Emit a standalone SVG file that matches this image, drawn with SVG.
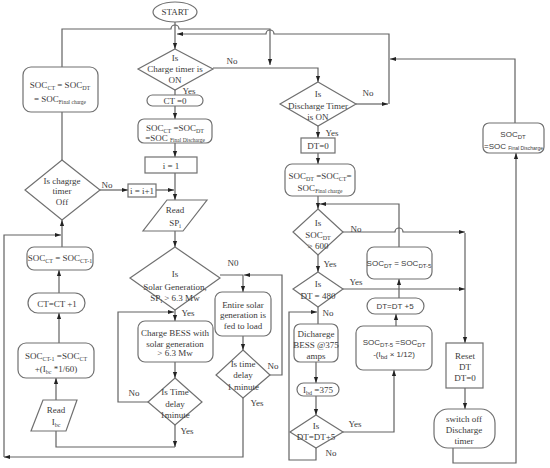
<svg xmlns="http://www.w3.org/2000/svg" width="550" height="468" viewBox="0 0 550 468">
<style>
.n{fill:#fff;stroke:#707070;stroke-width:1.2}
.c{fill:none;stroke:#626262;stroke-width:1.2}
text{font-family:"Liberation Serif","Times New Roman",serif;fill:#3a3a3a;text-anchor:middle;font-size:9px}
.s{font-family:"Liberation Sans",Arial,sans-serif;font-size:8px}
.b{font-size:6px}
.f{font-size:5.5px}
.lb{font-size:9px}
</style>
<defs>
<marker id="a" viewBox="0 0 10 10" refX="10" refY="5" markerWidth="6" markerHeight="6" orient="auto" markerUnits="userSpaceOnUse"><path d="M0,1.5L10,5L0,8.5z" fill="#222"/></marker>
</defs>
<rect width="550" height="468" fill="#fff"/>
<g id="connectors" class="c">
<path d="M175,22V49" marker-end="url(#a)"/>
<path d="M62,67V29H171a4,4 0 0 1 8,0H270V65" marker-end="url(#a)"/>
<path d="M356,104H388" marker-end="url(#a)"/>
<path d="M389,104V34H274a4,4 0 0 0 -8,0H177" marker-end="url(#a)"/>
<path d="M515,123V59H390" marker-end="url(#a)"/>
<path d="M213,68H318V82" marker-end="url(#a)"/>
<path d="M175,90V95"/>
<path d="M175,106V119" marker-end="url(#a)"/>
<path d="M175,143V157" marker-end="url(#a)"/>
<path d="M175,173V200" marker-end="url(#a)"/>
<path d="M100,190H128" marker-end="url(#a)"/>
<path d="M156,190H174" marker-end="url(#a)"/>
<path d="M175,231V247" marker-end="url(#a)"/>
<path d="M175,310V321" marker-end="url(#a)"/>
<path d="M148,402H118V312H174" marker-end="url(#a)"/>
<path d="M175,362V378" marker-end="url(#a)"/>
<path d="M175,425V447" marker-end="url(#a)"/>
<path d="M175,447H56V431"/>
<path d="M56,400V378" marker-end="url(#a)"/>
<path d="M59,343V313" marker-end="url(#a)"/>
<path d="M59,293V270" marker-end="url(#a)"/>
<path d="M62,112V160"/>
<path d="M62,247V220" marker-end="url(#a)"/>
<path d="M243,398V457H4" marker-end="url(#a)"/>
<path d="M4,457V235H61" marker-end="url(#a)"/>
<path d="M220,275H243V292" marker-end="url(#a)"/>
<path d="M270,375H282V275H244" marker-end="url(#a)"/>
<path d="M243,336V350" marker-end="url(#a)"/>
<path d="M318,126V138" marker-end="url(#a)"/>
<path d="M318,153V164" marker-end="url(#a)"/>
<path d="M318,196V209" marker-end="url(#a)"/>
<path d="M399,247V204H320" marker-end="url(#a)"/>
<path d="M343,232H395a4,4 0 0 1 8,0H465" marker-end="url(#a)"/>
<path d="M465,233V343" marker-end="url(#a)"/>
<path d="M318,255V272" marker-end="url(#a)"/>
<path d="M343,289H465" marker-end="url(#a)"/>
<path d="M318,307V324"/>
<path d="M316,448V460H289V312H317" marker-end="url(#a)"/>
<path d="M316,362V383" marker-end="url(#a)"/>
<path d="M316,396V415" marker-end="url(#a)"/>
<path d="M343,432H394V370" marker-end="url(#a)"/>
<path d="M396,326V314" marker-end="url(#a)"/>
<path d="M399,298V279" marker-end="url(#a)"/>
<path d="M465,388V409" marker-end="url(#a)"/>
<path d="M453,448V463H516V153" marker-end="url(#a)"/>
</g>
<g id="start"><ellipse class="n" cx="175" cy="12" rx="22" ry="10"/><text x="175" y="15" font-size="8.5">START</text></g>
<g id="charge-on"><polygon class="n" points="175,49 213,69 175,90 138,69"/><text x="175" y="60.5" font-size="10">Is</text><text x="175" y="71.5" font-size="10">Charge timer is</text><text x="175" y="82.5" font-size="10">ON</text></g>
<g id="ct0"><rect class="n" x="147" y="95" width="56" height="11" rx="5.5"/><text x="175" y="104" font-size="8.5">CT =0</text></g>
<g id="soc-fd"><rect class="n" x="138" y="119" width="74" height="24" rx="6"/><text x="175" y="131">SOC<tspan class="b" dy="2">CT</tspan><tspan dy="-2"> =SOC</tspan><tspan class="b" dy="2">DT</tspan></text><text x="175" y="141">=SOC <tspan class="f" dy="1">Final Discharge</tspan></text></g>
<g id="i1"><rect class="n" x="145" y="157" width="52" height="16"/><text x="171" y="168.5">i = 1</text></g>
<g id="readsp"><polygon class="n" points="167,200 207,200 183,231 143,231"/><text x="175" y="213">Read</text><text x="175" y="226">SP<tspan class="b" dy="2">i</tspan></text></g>
<g id="charge-off"><polygon class="n" points="62,160 100,190 62,220 25,190"/><text x="62" y="183.5" font-size="9.5">Is chagrge</text><text x="62" y="194" font-size="9.5">timer</text><text x="62" y="204.5" font-size="9.5">Off</text></g>
<g id="ii1"><rect class="n" x="128" y="184" width="28" height="13"/><text x="142" y="193.5" font-size="8.5">i = i+1</text></g>
<g id="soc-fc-left"><rect class="n" x="23" y="67" width="75" height="45" rx="8"/><text x="60" y="88">SOC<tspan class="b" dy="2">CT</tspan><tspan dy="-2"> = SOC</tspan><tspan class="b" dy="2">DT</tspan></text><text x="60" y="102">= SOC<tspan class="f" dy="2">Final charge</tspan></text></g>
<g id="soc-ct1"><rect class="n" x="27" y="247" width="66" height="23" rx="7"/><text x="60" y="261" font-size="8.5">SOC<tspan class="b" dy="2">CT</tspan><tspan dy="-2"> = SOC</tspan><tspan class="b" dy="2">CT-1</tspan></text></g>
<g id="ctct1"><rect class="n" x="28" y="293" width="57" height="20" rx="10"/><text x="57" y="306.5" font-size="9.5">CT=CT +1</text></g>
<g id="soc-ibc"><rect class="n" x="18" y="343" width="76" height="35" rx="8"/><text x="56" y="359" font-size="8.5">SOC<tspan class="b" dy="2">CT-1</tspan><tspan dy="-2"> =SOC</tspan><tspan class="b" dy="2">CT</tspan></text><text x="56" y="372" font-size="8.5">+(I<tspan class="b" dy="2">bc</tspan><tspan dy="-2"> *1/60)</tspan></text></g>
<g id="readibc"><polygon class="n" points="43,400 77,400 66,431 31,431"/><text x="56" y="413" font-size="9.5">Read</text><text x="56" y="425" font-size="9.5">I<tspan class="b" dy="2">bc</tspan></text></g>
<g id="solar"><polygon class="n" points="175,247 220,278 175,310 130,278"/><text x="175" y="276.5" font-size="10">Is</text><text x="175" y="290" font-size="10">Solar Generation,</text><text x="175" y="300.5" font-size="10">SP<tspan class="b" dy="2">i</tspan><tspan dy="-2"> &gt; 6.3 Mw</tspan></text></g>
<g id="charge-bess"><rect class="n" x="138" y="321" width="75" height="41" rx="7"/><text x="175" y="335.5" font-size="9">Charge BESS with</text><text x="175" y="346.5" font-size="9">solar generation</text><text x="175" y="356" font-size="9">&gt; 6.3 Mw</text></g>
<g id="delay-left"><polygon class="n" points="175,378 202,402 175,425 148,402"/><text x="175" y="395" font-size="9.5">Is Time</text><text x="175" y="406.5" font-size="9.5">delay</text><text x="175" y="418" font-size="9.5">1minute</text></g>
<g id="entire"><rect class="n" x="215" y="292" width="56" height="44" rx="7"/><text x="243" y="307.5" font-size="9.3">Entire solar</text><text x="243" y="318" font-size="9.3">generation is</text><text x="243" y="328.5" font-size="9.3">fed to load</text></g>
<g id="delay-right"><polygon class="n" points="243,350 270,375 243,398 216,375"/><text x="243" y="367" font-size="9">Is time</text><text x="243" y="378" font-size="9">delay</text><text x="243" y="389.5" font-size="9">1 minute</text></g>
<g id="discharge-on"><polygon class="n" points="318,82 356,104 318,126 280,104"/><text x="318" y="97" font-size="10">Is</text><text x="318" y="109" font-size="10">Discharge Timer</text><text x="318" y="120" font-size="10">is ON</text></g>
<g id="dt0"><rect class="n" x="301" y="138" width="34" height="15"/><text x="318" y="149" font-size="9">DT=0</text></g>
<g id="soc-fc-right"><rect class="n" x="285" y="164" width="70" height="32" rx="7"/><text x="320" y="179" font-size="9">SOC<tspan class="b" dy="2">DT</tspan><tspan dy="-2"> =SOC</tspan><tspan class="b" dy="2">CT</tspan><tspan dy="-2">=</tspan></text><text x="320" y="191" font-size="9">SOC<tspan class="f" dy="2">Final charge</tspan></text></g>
<g id="soc600"><polygon class="n" points="318,209 343,232 318,255 293,232"/><text x="318" y="226" font-size="8.5">Is</text><text x="318" y="238" font-size="8.5">SOC<tspan class="b" dy="2">DT</tspan></text><text x="318" y="249" font-size="8.5">&gt; 600</text></g>
<g id="dt480"><polygon class="n" points="318,272 343,289 318,307 293,289"/><text x="318" y="287" font-size="8.5">Is</text><text x="318" y="299" font-size="8.5">DT = 480</text></g>
<g id="discharge-bess"><rect class="n" x="294" y="324" width="44" height="38" rx="6"/><text x="316" y="337" font-size="8.5">Dicharege</text><text x="316" y="348" font-size="8.5">BESS @375</text><text x="316" y="359" font-size="8.5">amps</text></g>
<g id="ibd"><rect class="n" x="297" y="383" width="42" height="13" rx="6.5"/><text x="318" y="392.5" font-size="8.5">I<tspan class="b" dy="2">bd</tspan><tspan dy="-2"> =375</tspan></text></g>
<g id="dtdt5-q"><polygon class="n" points="316,415 343,432 316,448 290,432"/><text x="316" y="429" font-size="8.5">Is</text><text x="316" y="440" font-size="8.5">DT=DT+5</text></g>
<g id="soc-dt5"><rect class="n" x="367" y="247" width="65" height="32" rx="7"/><text class="s" x="399" y="266">SOC<tspan class="b" dy="2">DT</tspan><tspan dy="-2"> = SOC</tspan><tspan class="b" dy="2">DT-5</tspan></text></g>
<g id="dtdt5"><rect class="n" x="367" y="298" width="57" height="16" rx="8"/><text class="s" x="395" y="309">DT=DT +5</text></g>
<g id="soc-ibd"><rect class="n" x="356" y="326" width="76" height="44" rx="7"/><text class="s" x="394" y="345">SOC<tspan class="b" dy="2">DT-5</tspan><tspan dy="-2"> =SOC</tspan><tspan class="b" dy="2">DT</tspan></text><text class="s" x="394" y="357">-(I<tspan class="b" dy="2">bd</tspan><tspan dy="-2"> × 1/12)</tspan></text></g>
<g id="reset"><rect class="n" x="446" y="343" width="37" height="45"/><text x="465" y="359" font-size="8.5">Reset</text><text x="465" y="370" font-size="8.5">DT</text><text x="465" y="380.5" font-size="8.5">DT=0</text></g>
<g id="switchoff"><rect class="n" x="434" y="409" width="61" height="39" rx="14"/><text x="464" y="421.5" font-size="9">switch off</text><text x="464" y="432.5" font-size="9">Discharge</text><text x="464" y="444" font-size="9">timer</text></g>
<g id="soc-fd-right"><rect class="n" x="483" y="123" width="61" height="30" rx="6"/><text class="s" x="513" y="137">SOC<tspan class="b" dy="2">DT</tspan></text><text class="s" x="513.5" y="149" font-size="7">=SOC <tspan font-size="5" dy="1">Final Discharge</tspan></text></g>
<g id="labels">
<text class="lb" x="189" y="94">Yes</text>
<text class="lb" x="232" y="64">No</text>
<text class="lb" x="368" y="96">No</text>
<text class="lb" x="332" y="136">Yes</text>
<text class="lb" x="107" y="188">No</text>
<text class="lb" x="233" y="266">N0</text>
<text class="lb" x="188" y="316">Yes</text>
<text class="lb" x="330" y="267">Yes</text>
<text class="lb" x="356" y="232">No</text>
<text class="lb" x="356" y="285">Yes</text>
<text class="lb" x="328" y="316">No</text>
<text class="lb" x="134" y="396">No</text>
<text class="lb" x="187" y="434">Yes</text>
<text class="lb" x="273" y="369">No</text>
<text class="lb" x="257" y="406">Yes</text>
<text class="lb" x="355" y="427">Yes</text>
<text class="lb" x="331" y="456">No</text>
</g>
</svg>
